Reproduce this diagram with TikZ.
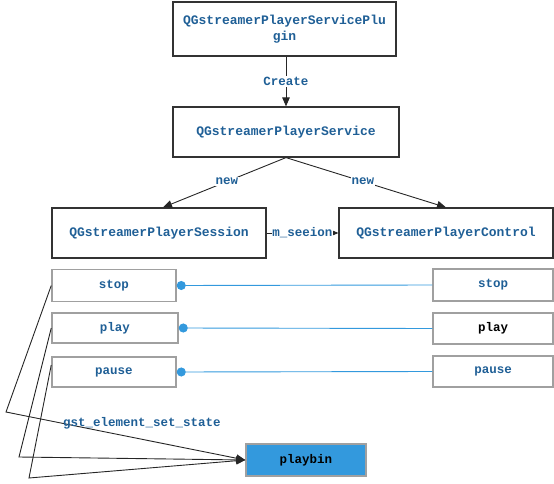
\documentclass[tikz,border=0pt]{standalone}
\usepackage{fontspec}
\setmainfont{Liberation Mono}
\usetikzlibrary{arrows.meta,calc}
\definecolor{txtblue}{HTML}{1F5F96}
\definecolor{dotblue}{HTML}{3399DD}
\definecolor{boxgray}{HTML}{A0A0A0}
\tikzset{
  bigbox/.style={draw=black!80, line width=1.2pt, minimum height=50pt, font=\fontsize{13}{16}\selectfont\bfseries, text=txtblue, align=center, inner sep=0pt},
  smallbox/.style={draw=boxgray, line width=1.5pt, minimum width=124pt, minimum height=32pt, font=\fontsize{12.5}{14}\selectfont\bfseries, text=txtblue, inner sep=0pt},
  lbl/.style={font=\fontsize{12.5}{14}\selectfont\bfseries, text=txtblue, fill=white, inner sep=1pt},
  conn/.style={draw=black!85, line width=0.9pt, -{Triangle[length=9pt,width=7.5pt]}},
  blueline/.style={draw=dotblue, line width=0.9pt, {Circle[length=9pt,width=9pt]}-},
}
\begin{document}
\begin{tikzpicture}[x=1pt,y=-1pt]
\useasboundingbox (0,0) rectangle (554,484);
\node[bigbox, minimum width=223pt, minimum height=54pt] (plugin) at (284.5,29) {QGstreamerPlayerServicePlu\\gin};
\node[bigbox, minimum width=226pt] (service) at (286,132) {QGstreamerPlayerService};
\node[bigbox, minimum width=214pt] (session) at (159,233) {QGstreamerPlayerSession};
\node[bigbox, minimum width=214pt] (control) at (446,233) {QGstreamerPlayerControl};

\node[smallbox] (stopL) at (114,285.5) {stop};
\node[smallbox, minimum width=126pt, minimum height=30pt] (playL) at (115,328) {play};
\node[smallbox, minimum height=30pt] (pauseL) at (114,372) {pause};

\node[smallbox, minimum width=120pt] (stopR) at (493,285) {stop};
\node[smallbox, minimum width=120pt, minimum height=31pt, text=black] (playR) at (493,328.5) {play};
\node[smallbox, minimum width=120pt, minimum height=31pt] (pauseR) at (493,371.5) {pause};

\node[smallbox, minimum width=120pt, fill=dotblue, text=black] (playbin) at (306,460) {playbin};

\draw[conn] (plugin.south -| service.north) -- node[lbl] {Create} (service.north);
\draw[conn] (service.south) -- node[lbl, pos=0.48] {new} ([xshift=4pt]session.north);
\draw[conn] (service.south) -- node[lbl, pos=0.48] {new} (control.north);
\draw[conn] (session.east) -- node[lbl, inner sep=0pt] {m\_seeion} (control.west);

\draw[blueline] (stopL.east) -- (stopR.west);
\draw[blueline] (playL.east) -- (playR.west);
\draw[blueline] (pauseL.east) -- (pauseR.west);

\coordinate (c1) at (6,412);
\coordinate (c2) at (19,457);
\coordinate (c3) at (29,478);
\draw[conn] (stopL.west) -- (c1) -- (playbin.west);
\draw[conn] (playL.west) -- (c2) -- (playbin.west);
\draw[conn] ([yshift=7pt]pauseL.west) -- (c3) -- (playbin.west);

\node[font=\fontsize{12.5}{14}\selectfont\bfseries, text=txtblue] (gst) at (142,423) {gst\_element\_set\_state};
\end{tikzpicture}
\end{document}
